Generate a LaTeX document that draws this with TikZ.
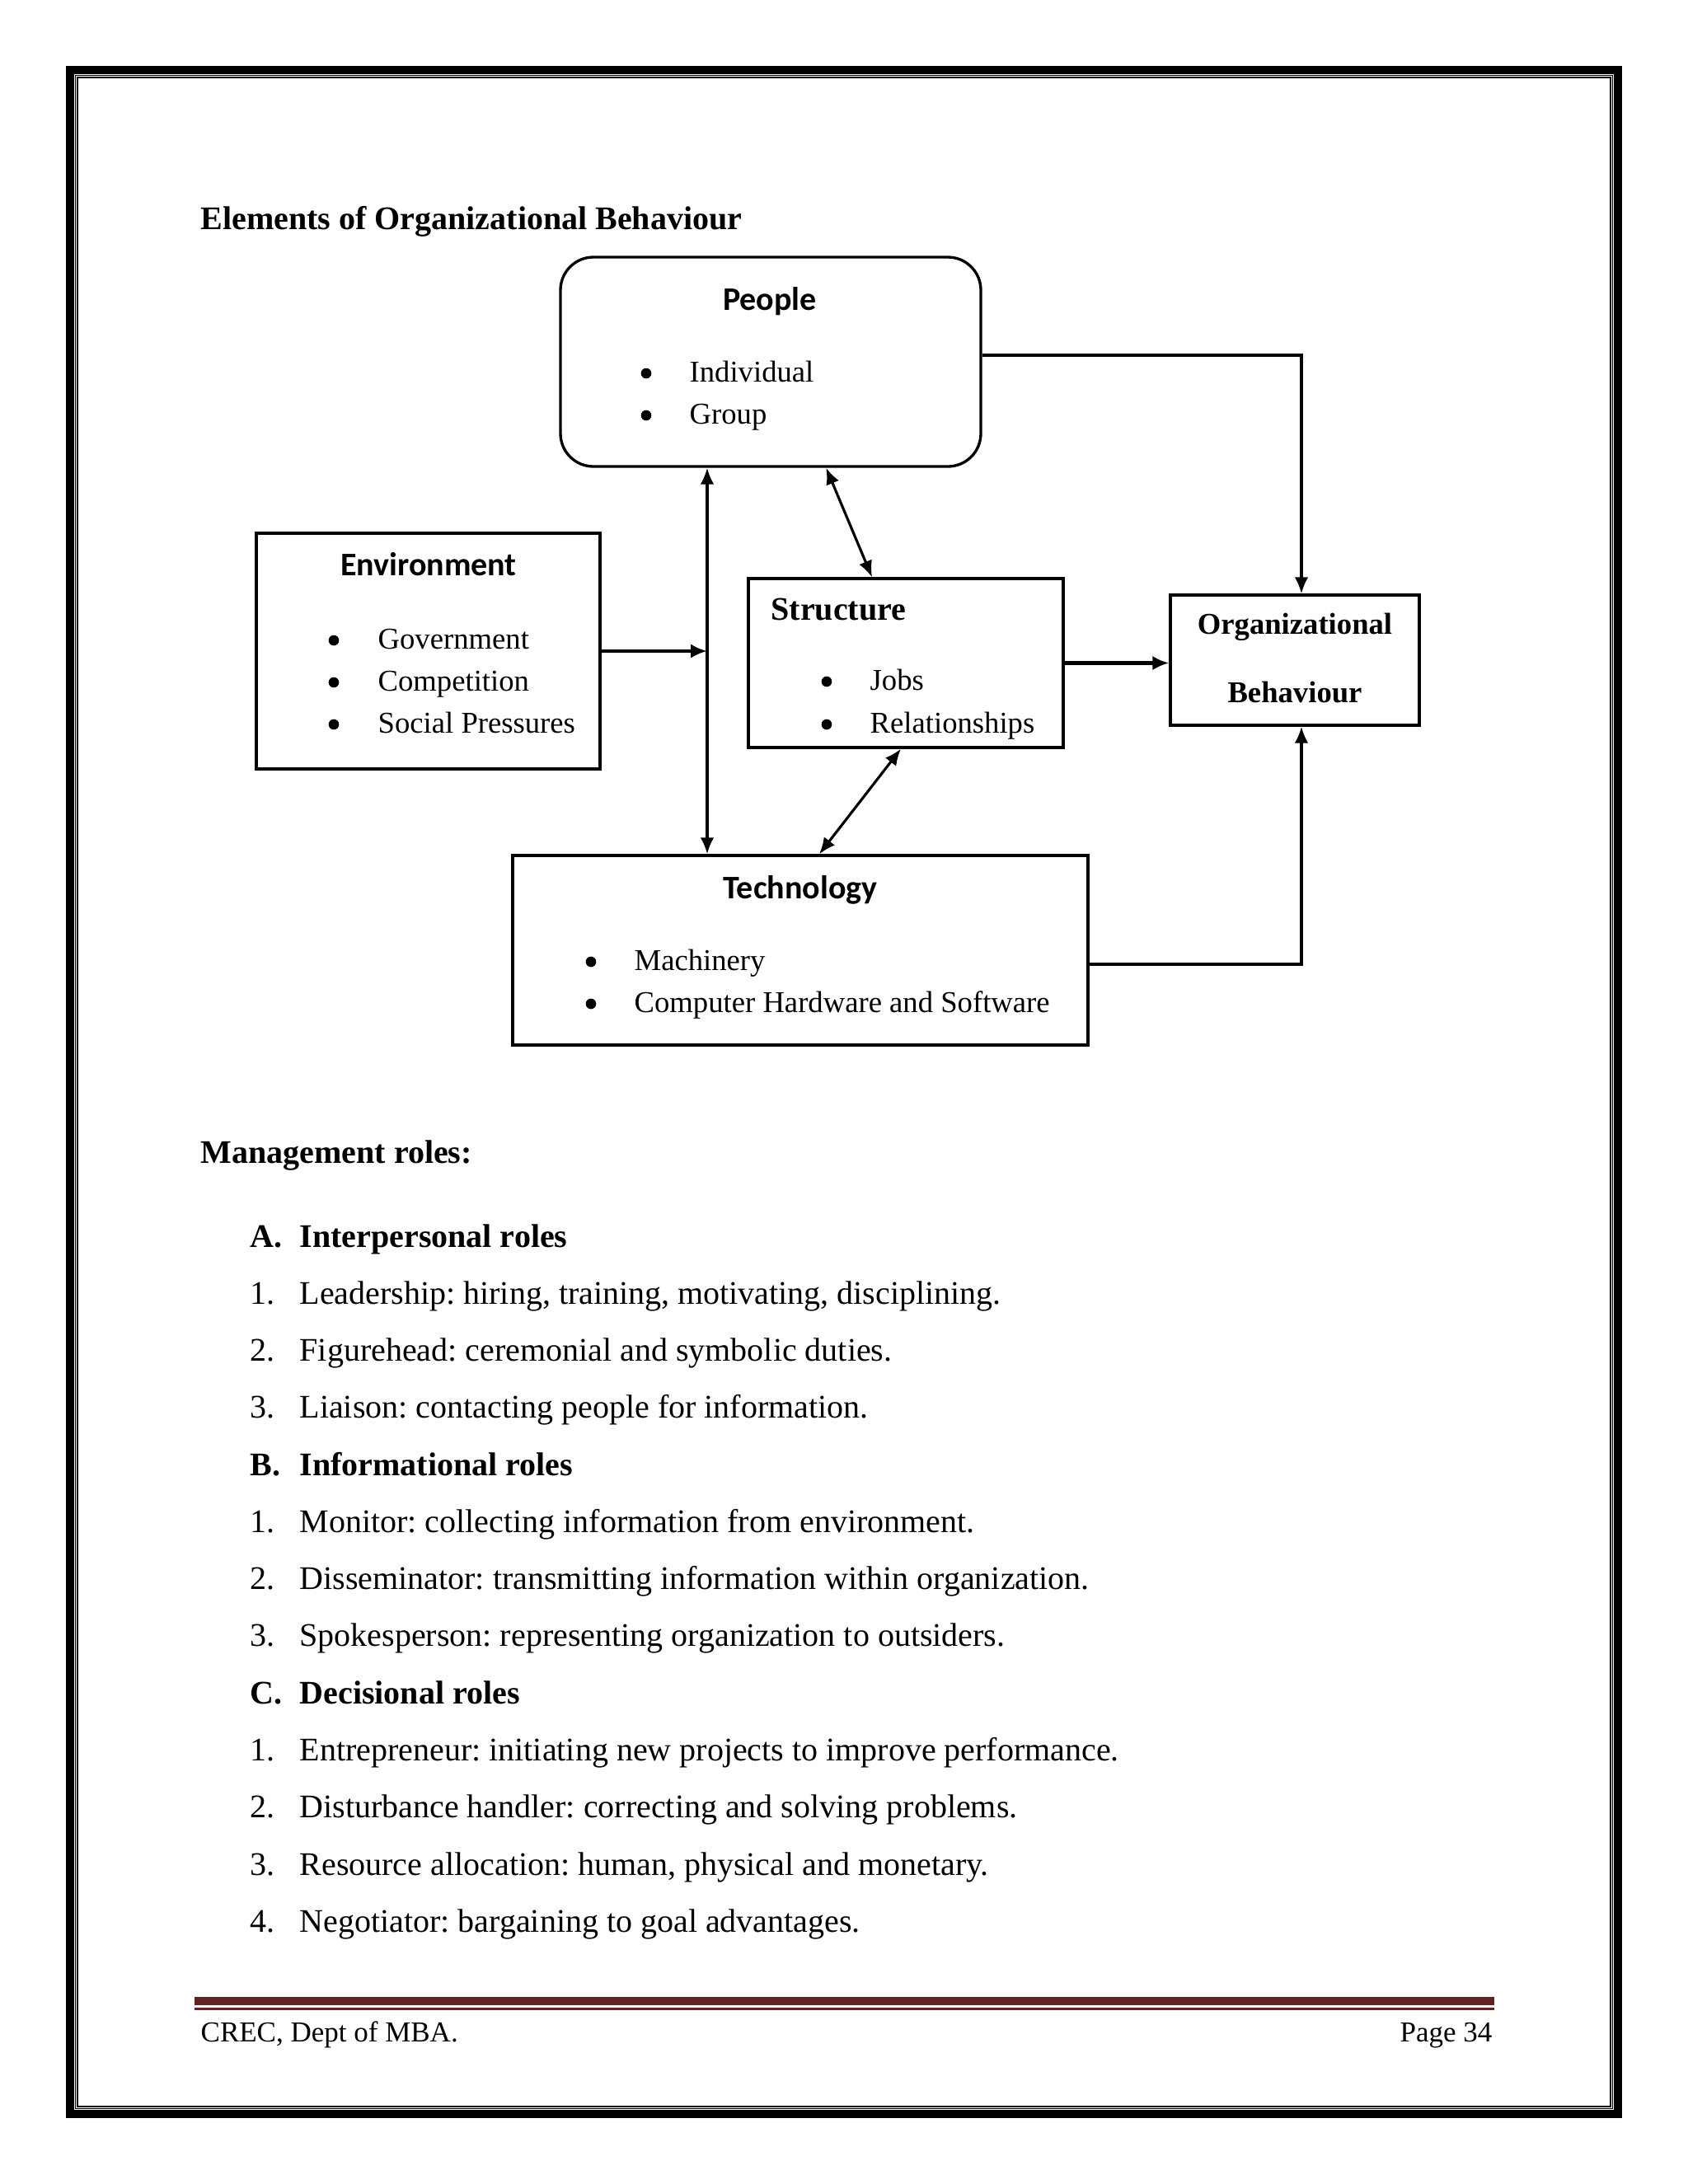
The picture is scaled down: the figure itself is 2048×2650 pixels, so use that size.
\documentclass[tikz,border=0pt]{standalone}
\usepackage{fontspec}
\setmainfont{Liberation Serif}
\newfontfamily\calfont{Carlito}
\usetikzlibrary{arrows.meta,fit}
\definecolor{footred}{HTML}{622423}
\frenchspacing
\begin{document}
\begin{tikzpicture}[x=0.3pt,y=-0.3pt,
  box/.style={draw, line width=1pt, inner sep=0pt},
  conn/.style={line width=0.95pt, -{Latex[length=6pt,width=5pt]}},
  dconn/.style={line width=0.95pt, {Latex[length=6pt,width=5pt]}-{Latex[length=6pt,width=5pt]}},
  thick conn/.style={line width=1.4pt, -{Latex[length=6pt,width=5.2pt]}},
  txt/.style={anchor=base west, inner sep=0pt, font=\fontsize{12}{14}\selectfont},
  btxt/.style={anchor=base west, inner sep=0pt, font=\fontsize{12}{14}\selectfont\bfseries},
  stxt/.style={anchor=base west, inner sep=0pt, font=\fontsize{11}{13}\selectfont},
  ctr/.style={anchor=base, inner sep=0pt, font=\fontsize{11}{13}\selectfont\bfseries},
  calhead/.style={anchor=base, inner sep=0pt, font=\fontsize{12}{14}\selectfont\calfont\bfseries},
  bul/.style={circle, fill, inner sep=0pt, minimum size=3.8pt},
  foot/.style={inner sep=0pt, font=\fontsize{10.5}{12}\selectfont}]
\useasboundingbox[fill=white] (0,0) rectangle (2048,2650);
% page frame
\draw[line width=3pt] (85,85) rectangle (1963,2565);
\draw[line width=0.35pt] (91.5,91.5) rectangle (1956.5,2558.5);
\draw[line width=0.45pt] (94,94) rectangle (1954,2556);

% title
\node[btxt] (title) at (243,278) {Elements of Organizational Behaviour};

% boxes
\node[box, rounded corners=12pt, fit={(680,312) (1190,566)}] (people) {};
\node[box, fit={(311,647) (728,933)}] (env) {};
\node[box, fit={(908,702) (1290,907)}] (struct) {};
\node[box, fit={(1420,722) (1722,880)}] (org) {};
\node[box, fit={(622,1038) (1320,1268)}] (tech) {};

% People
\node[calhead] (peoplet) at (934,376) {People};
\node[bul] (pb1) at (784,453) {};
\node[stxt] (p1) at (836,463) {Individual};
\node[bul] (pb2) at (784,504) {};
\node[stxt] (p2) at (836,514) {Group};

% Environment
\node[calhead] (envt) at (520,698) {Environment};
\node[bul] (eb1) at (405,777) {};
\node[stxt] (e1) at (458,787) {Government};
\node[bul] (eb2) at (405,828) {};
\node[stxt] (e2) at (458,838) {Competition};
\node[bul] (eb3) at (405,879) {};
\node[stxt] (e3) at (458,889) {Social Pressures};

% Structure
\node[btxt] (structt) at (935,752) {Structure};
\node[bul] (sb1) at (1003,827) {};
\node[stxt] (s1) at (1055,837) {Jobs};
\node[bul] (sb2) at (1003,879) {};
\node[stxt] (s2) at (1055,889) {Relationships};

% Organizational Behaviour
\node[ctr] (orgt1) at (1571,769) {Organizational};
\node[ctr] (orgt2) at (1571,852) {Behaviour};

% Technology
\node[calhead] (techt) at (971,1090) {Technology};
\node[bul] (tb1) at (717,1167) {};
\node[stxt] (t1) at (769,1177) {Machinery};
\node[bul] (tb2) at (717,1218) {};
\node[stxt] (t2) at (769,1228) {Computer Hardware and Software};

% connectors
\coordinate (vx) at (858,0);
\coordinate (ox) at (1579,0);
\draw[conn] ([yshift=2.4pt]people.east) -| (org.north -| ox);
\draw[dconn] (people.south -| vx) -- (tech.north -| vx);
\draw[thick conn] (env.east) -- (env.east -| vx);
\draw[dconn] ([xshift=20.2pt]people.south) -- ([xshift=-12.3pt]struct.north);
\draw[thick conn] (struct.east) -- (struct.east -| org.west);
\draw[dconn] ([xshift=-1.8pt]struct.south) -- ([xshift=6.9pt]tech.north);
\draw[conn] ([yshift=-5.1pt]tech.east) -| (org.south -| ox);

% Management roles
\node[btxt] (mr) at (243,1411) {Management roles:};
\node[btxt] (la) at (303,1513) {A.};
\node[btxt] (ha) at (363,1513) {Interpersonal roles};
\node[txt] (n1) at (303,1582) {1.};
\node[txt] (i1) at (363,1582) {Leadership: hiring, training, motivating, disciplining.};
\node[txt] (n2) at (303,1651) {2.};
\node[txt] (i2) at (363,1651) {Figurehead: ceremonial and symbolic duties.};
\node[txt] (n3) at (303,1720) {3.};
\node[txt] (i3) at (363,1720) {Liaison: contacting people for information.};
\node[btxt] (lb) at (303,1790) {B.};
\node[btxt] (hb) at (363,1790) {Informational roles};
\node[txt] (n4) at (303,1859) {1.};
\node[txt] (i4) at (363,1859) {Monitor: collecting information from environment.};
\node[txt] (n5) at (303,1928) {2.};
\node[txt] (i5) at (363,1928) {Disseminator: transmitting information within organization.};
\node[txt] (n6) at (303,1997) {3.};
\node[txt] (i6) at (363,1997) {Spokesperson: representing organization to outsiders.};
\node[btxt] (lc) at (303,2067) {C.};
\node[btxt] (hc) at (363,2067) {Decisional roles};
\node[txt] (n7) at (303,2136) {1.};
\node[txt] (i7) at (363,2136) {Entrepreneur: initiating new projects to improve performance.};
\node[txt] (n8) at (303,2205) {2.};
\node[txt] (i8) at (363,2205) {Disturbance handler: correcting and solving problems.};
\node[txt] (n9) at (303,2275) {3.};
\node[txt] (i9) at (363,2275) {Resource allocation: human, physical and monetary.};
\node[txt] (n10) at (303,2344) {4.};
\node[txt] (i10) at (363,2344) {Negotiator: bargaining to goal advantages.};

% footer
\fill[footred] (236,2423) rectangle (1813,2433);
\fill[footred] (236,2436) rectangle (1813,2438.5);
\node[foot, anchor=base west] (fl) at (243,2477) {CREC, Dept of MBA.};
\node[foot, anchor=base east] (fr) at (1811,2477) {Page 34};
\end{tikzpicture}
\end{document}
